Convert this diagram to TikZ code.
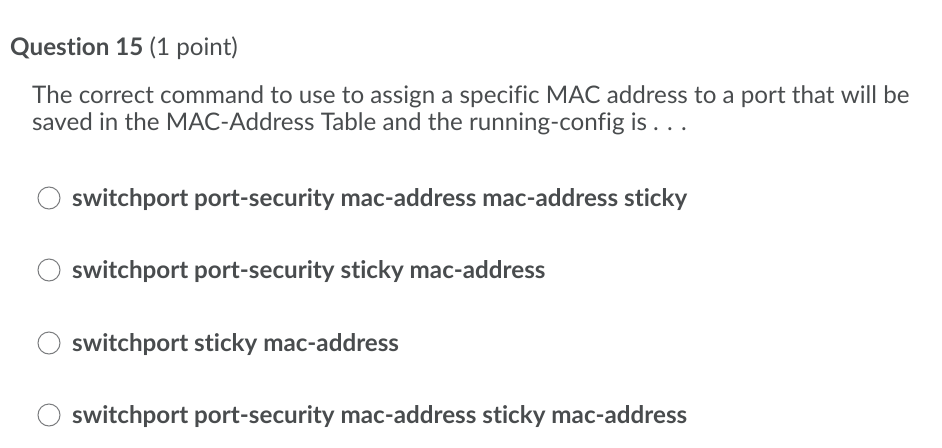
\documentclass[tikz,border=0pt]{standalone}
\usepackage{fontspec}
\setmainfont{Lato}[Ligatures=NoCommon]
\definecolor{txt}{HTML}{494C4E}
\definecolor{circ}{HTML}{7A7C7E}
\begin{document}
\begin{tikzpicture}[x=1pt,y=-1pt,
  t/.style={anchor=base west,inner sep=0pt,text=txt,font=\fontsize{24.2}{28}\selectfont},
  opt/.style={t,font=\fontsize{24.2}{28}\selectfont\bfseries},
  radio/.style={circle,draw=circ,line width=1pt,minimum size=22pt,inner sep=0pt}]
\useasboundingbox[fill=white] (0,0) rectangle (942,447);
\node[t] (q) at (10,55) {\textbf{Question 15} (1 point)};
\node[t] (l1) at (32,103) {The correct command to use to assign a specific MAC address to a port that will be};
\node[t] (l2) at (32,130) {saved in the MAC-Address Table and the running-config is . . .};
\foreach \y/\s/\n in {198/switchport port-security mac-address mac-address sticky/a,
  270/switchport port-security sticky mac-address/b,
  343/switchport sticky mac-address/c,
  415/switchport port-security mac-address sticky mac-address/d}{
  \node[radio] (r\n) at (49,\y) {};
  \node[opt] (o\n) at (72,\y+8) {\s};
}
\end{tikzpicture}
\end{document}
